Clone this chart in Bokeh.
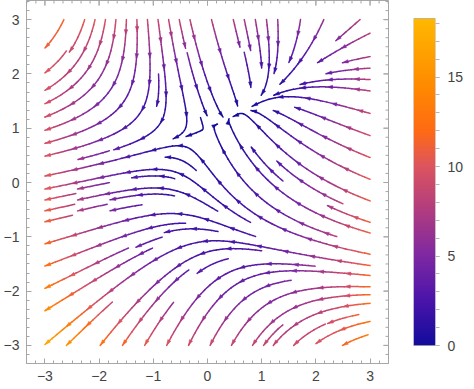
import numpy as np
from bokeh.plotting import figure
from bokeh.layouts import row
from bokeh.models import FixedTicker
from bokeh.embed import file_html
from bokeh.resources import INLINE

# ---- data: vector field  u = -1 - x^2 + y ,  v = 1 + x - y^2  (coef, power of x, power of y)
U_TERMS = [(-1.0, 0, 0), (-1.0, 2, 0), (1.0, 0, 1)]
V_TERMS = [(1.0, 0, 0), (1.0, 1, 0), (-1.0, 0, 2)]
X_DOMAIN = [-3.0, 3.0]
Y_DOMAIN = [-3.0, 3.0]
AXIS_TICKS = [-3, -2, -1, 0, 1, 2, 3]
AXIS_LABELS = ["\u22123", "\u22122", "\u22121", "0", "1", "2", "3"]
MINOR_STEP = 1.0 / 6.0
CBAR_TICKS = [0, 5, 10, 15]
CBAR_LABELS = ["0", "5", "10", "15"]
CBAR_MAX = 18.27
CMAP_VALUES = [0.0, 2.5, 5.0, 7.5, 10.0, 12.0, 14.5, 18.27]
CMAP_COLORS = ["#120c9c", "#4a14aa", "#7e28a2", "#b03c80", "#dc5460", "#ff6a14", "#ff8a00", "#ffb800"]

# layout (pixels)
FIG_H = 389
BORDER_TOP = 0
BORDER_BOTTOM = 26
FRAME_H = FIG_H - BORDER_TOP - BORDER_BOTTOM      # 363
FRAME_W = 364
X_RANGE = (-3.34, 3.34)
Y_RANGE = (-3.333, 3.352)
CB_TOP_PX = 18          # bar top, from top of the figure
CB_BOTTOM_PX = 345      # bar bottom
FRAME = "#a6a6a6"
LABEL = "#444444"
FONT = "Liberation Sans"


def poly(terms, x, y):
    return sum(c * x ** a * y ** b for c, a, b in terms)


def vel(x, y):
    return poly(U_TERMS, x, y), poly(V_TERMS, x, y)


def hex2rgb(h):
    return np.array([int(h[i:i + 2], 16) for i in (1, 3, 5)], dtype=float)


CM_RGB = np.array([hex2rgb(c) for c in CMAP_COLORS])


def cmap_rgb(val):
    val = min(max(val, CMAP_VALUES[0]), CMAP_VALUES[-1])
    return [np.interp(val, CMAP_VALUES, CM_RGB[:, k]) for k in range(3)]


def cmap(val):
    r, g, b = cmap_rgb(val)
    return "#%02x%02x%02x" % (int(round(r)), int(round(g)), int(round(b)))


# ---- streamline placement (evenly spaced, mask based)
N = 30
x0, x1 = X_DOMAIN
y0, y1 = Y_DOMAIN
mask = np.zeros((N, N), dtype=bool)
H = 0.02
MAXLEN = 9.0
MINLEN = 0.5


def to_cell(x, y):
    i = min(N - 1, max(0, int((x - x0) / (x1 - x0) * N)))
    j = min(N - 1, max(0, int((y - y0) / (y1 - y0) * N)))
    return (j, i)


def trace(sx, sy, sign, cells):
    pts = [(sx, sy)]
    x, y = sx, sy
    cur = to_cell(x, y)
    length = 0.0
    while length < MAXLEN:
        u, v = vel(x, y)
        s = np.hypot(u, v)
        if s < 2e-3:
            break
        xm = x + 0.5 * H * sign * u / s
        ym = y + 0.5 * H * sign * v / s
        u2, v2 = vel(xm, ym)
        s2 = np.hypot(u2, v2)
        if s2 < 2e-3:
            break
        nx = x + H * sign * u2 / s2
        ny = y + H * sign * v2 / s2
        if not (x0 <= nx <= x1 and y0 <= ny <= y1):
            dx, dy = nx - x, ny - y
            t = 1.0
            if nx < x0:
                t = min(t, (x0 - x) / dx)
            if nx > x1:
                t = min(t, (x1 - x) / dx)
            if ny < y0:
                t = min(t, (y0 - y) / dy)
            if ny > y1:
                t = min(t, (y1 - y) / dy)
            pts.append((x + t * dx, y + t * dy))
            break
        c = to_cell(nx, ny)
        if c != cur:
            if mask[c]:
                break
            mask[c] = True
            cells.append(c)
            cur = c
        x, y = nx, ny
        pts.append((x, y))
        length += H
    return pts


def spiral(n):
    xfirst, yfirst, xlast, ylast = 0, 1, n - 1, n - 1
    x, y, d = 0, 0, "right"
    for _ in range(n * n):
        yield x, y
        if d == "right":
            x += 1
            if x >= xlast:
                xlast -= 1
                d = "up"
        elif d == "up":
            y += 1
            if y >= ylast:
                ylast -= 1
                d = "left"
        elif d == "left":
            x -= 1
            if x <= xfirst:
                xfirst += 1
                d = "down"
        else:
            y -= 1
            if y <= yfirst:
                yfirst += 1
                d = "right"


lines = []
cw = (x1 - x0) / N
ch = (y1 - y0) / N
for i, j in spiral(N):
    if mask[j, i]:
        continue
    sx = x0 + (i + 0.5) * cw
    sy = y0 + (j + 0.5) * ch
    mask[j, i] = True
    cells = [(j, i)]
    fwd = trace(sx, sy, 1.0, cells)
    bwd = trace(sx, sy, -1.0, cells)
    pts = np.array(bwd[::-1] + fwd[1:])
    if len(pts) < 2:
        for c in cells:
            mask[c] = False
        continue
    seg = np.hypot(np.diff(pts[:, 0]), np.diff(pts[:, 1]))
    if seg.sum() < MINLEN:
        for c in cells:
            mask[c] = False
        continue
    lines.append(pts)

# ---- build colored segments and arrowheads
K = 6
seg_xs, seg_ys, seg_c = [], [], []
arr_xs, arr_ys, arr_c = [], [], []
AL, AW = 0.095, 0.032
for pts in lines:
    n = len(pts)
    for k in range(0, n - 1, K):
        sl = pts[k:min(n, k + K + 1)]
        mx, my = sl[len(sl) // 2]
        u, v = vel(mx, my)
        seg_xs.append(list(sl[:, 0]))
        seg_ys.append(list(sl[:, 1]))
        seg_c.append(cmap(np.hypot(u, v)))
    d = np.hypot(np.diff(pts[:, 0]), np.diff(pts[:, 1]))
    cum = np.concatenate([[0.0], np.cumsum(d)])
    total = cum[-1]
    s = total - 0.01
    while s > 0.22:
        px = np.interp(s, cum, pts[:, 0])
        py = np.interp(s, cum, pts[:, 1])
        u, v = vel(px, py)
        m = np.hypot(u, v)
        if m > 1e-6:
            dx, dy = u / m, v / m
            bx, by = px - dx * AL, py - dy * AL
            arr_xs.append([px, bx - dy * AW, bx + dy * AW])
            arr_ys.append([py, by + dx * AW, by - dx * AW])
            arr_c.append(cmap(m))
        s -= 0.5

# ---- main plot
p = figure(width=400, height=FIG_H, x_range=X_RANGE, y_range=Y_RANGE,
           output_backend="svg", toolbar_location=None,
           min_border_left=24, min_border_right=12,
           min_border_top=BORDER_TOP, min_border_bottom=BORDER_BOTTOM)
p.grid.visible = False
p.outline_line_color = FRAME
p.background_fill_color = "white"
p.border_fill_color = "white"

p.multi_line(seg_xs, seg_ys, line_color=seg_c, line_width=1.5, line_cap="round", line_join="round")
p.patches(arr_xs, arr_ys, fill_color=arr_c, line_color=arr_c, line_width=0.5)

minor = [k * MINOR_STEP for k in range(-20, 21)]
ticker = FixedTicker(ticks=AXIS_TICKS, minor_ticks=minor)
for ax in (p.xaxis[0], p.yaxis[0]):
    ax.ticker = ticker
    ax.axis_line_color = FRAME
    ax.major_tick_line_color = FRAME
    ax.minor_tick_line_color = FRAME
    ax.major_tick_in = 5
    ax.major_tick_out = 0
    ax.minor_tick_in = 3
    ax.minor_tick_out = 0
    ax.major_label_overrides = {t: l for t, l in zip(AXIS_TICKS, AXIS_LABELS)}
    ax.major_label_text_font = FONT
    ax.major_label_text_font_size = "14px"
    ax.major_label_text_color = LABEL
    ax.major_label_standoff = 7

# ticks on the top and right frame edges (inward), from the same tick lists
px_per_x = FRAME_W / (X_RANGE[1] - X_RANGE[0])
px_per_y = FRAME_H / (Y_RANGE[1] - Y_RANGE[0])
tx0, tx1, ty0, ty1 = [], [], [], []
for t in AXIS_TICKS + minor:
    L = 5.0 if t in AXIS_TICKS else 3.0
    if X_RANGE[0] < t < X_RANGE[1]:
        tx0.append(t); tx1.append(t); ty0.append(Y_RANGE[1]); ty1.append(Y_RANGE[1] - L / px_per_y)
    if Y_RANGE[0] < t < Y_RANGE[1]:
        tx0.append(X_RANGE[1]); tx1.append(X_RANGE[1] - L / px_per_x); ty0.append(t); ty1.append(t)
p.segment(tx0, ty0, tx1, ty1, line_color=FRAME, line_width=1)

# ---- colorbar (same frame height as the main plot; bar occupies part of it)
cb_ppu = (CB_BOTTOM_PX - CB_TOP_PX) / CBAR_MAX
cb_lo = -(FIG_H - BORDER_BOTTOM - CB_BOTTOM_PX) / cb_ppu
cb_hi = CBAR_MAX + (CB_TOP_PX - BORDER_TOP) / cb_ppu
NB = 256
vals = np.linspace(0, CBAR_MAX, NB)
img = np.zeros((NB, 1), dtype=np.uint32)
view = img.view(dtype=np.uint8).reshape((NB, 1, 4))
for k, v in enumerate(vals):
    r, g, b = cmap_rgb(v)
    view[k, 0, 0] = int(round(r))
    view[k, 0, 1] = int(round(g))
    view[k, 0, 2] = int(round(b))
    view[k, 0, 3] = 255
cb = figure(width=74, height=FIG_H, x_range=(0, 1), y_range=(cb_lo, cb_hi),
            output_backend="svg", toolbar_location=None,
            x_axis_location=None, y_axis_location="right",
            min_border_left=13, min_border_right=39,
            min_border_top=BORDER_TOP, min_border_bottom=BORDER_BOTTOM)
cb.grid.visible = False
cb.outline_line_color = None
cb.image_rgba(image=[img], x=0, y=0, dw=1, dh=CBAR_MAX)
cb.quad(left=0, right=1, bottom=0, top=CBAR_MAX, fill_color=None,
        line_color="#9a9a9a", line_alpha=0.6, line_width=1)
ya = cb.yaxis[0]
ya.ticker = FixedTicker(ticks=CBAR_TICKS, minor_ticks=list(range(0, 19)))
ya.major_label_overrides = {t: l for t, l in zip(CBAR_TICKS, CBAR_LABELS)}
ya.axis_line_color = None
ya.major_tick_line_color = "#b5b5b5"
ya.minor_tick_line_color = "#b5b5b5"
ya.major_tick_in = 0
ya.major_tick_out = 4
ya.minor_tick_in = 0
ya.minor_tick_out = 4
ya.major_label_text_font = FONT
ya.major_label_text_font_size = "14px"
ya.major_label_text_color = LABEL
ya.major_label_standoff = 8

layout = row(p, cb)
open("out.html", "w").write(file_html(layout, INLINE))
